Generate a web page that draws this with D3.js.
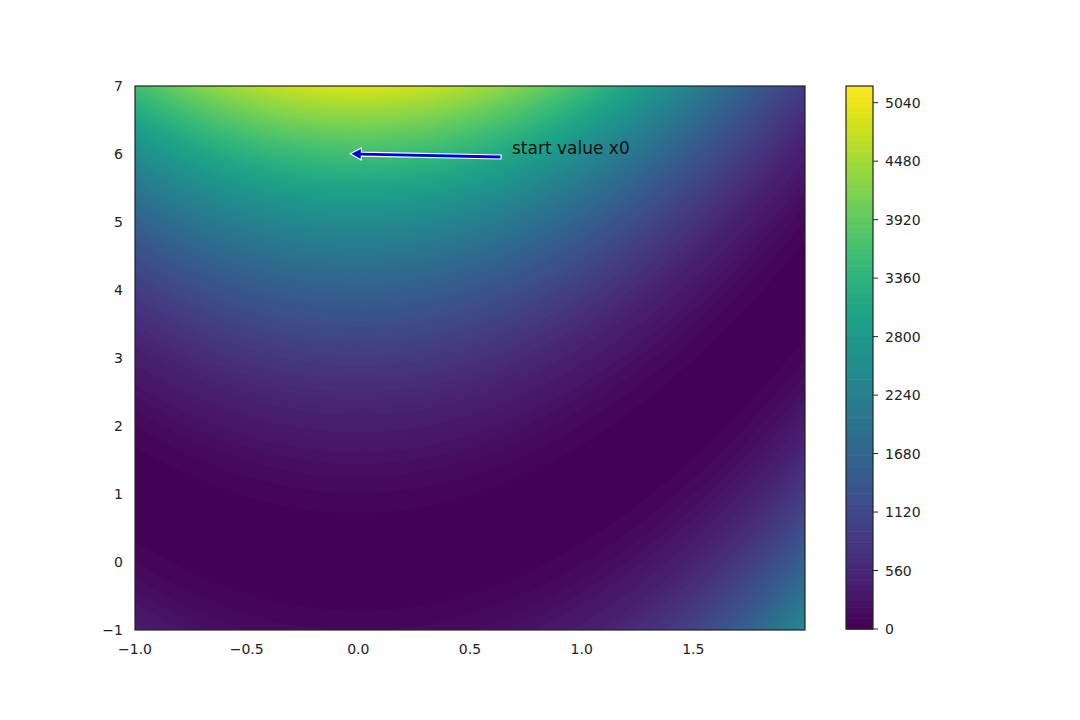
<!DOCTYPE html>
<html>
<head>
<meta charset="utf-8">
<script src="https://cdn.jsdelivr.net/npm/d3@7"></script>
<style>
  body { margin: 0; background: #fff; }
  text { font-family: "DejaVu Sans", sans-serif; }
</style>
</head>
<body>
<svg id="chart" width="1080" height="720"></svg>
<script>
// Surface: Rosenbrock function f(x, y) = (a - x)^2 + b (y - x^2)^2
const rosenA = 1;
const rosenB = 100;
const xDomain = [-1, 2];
const yDomain = [-1, 7];
const xTicks = [-1.0, -0.5, 0.0, 0.5, 1.0, 1.5];
const yTicks = [-1, 0, 1, 2, 3, 4, 5, 6, 7];
const levelStep = 52;
const levelMax = 5200;
const cbarTicks = [0, 560, 1120, 1680, 2240, 2800, 3360, 3920, 4480, 5040];
const startPoint = [0, 6];
const annotationText = 'start value x0';

const svg = d3.select('#chart');
const pLeft = 135, pRight = 805, pTop = 86, pBottom = 630;
const x = d3.scaleLinear().domain(xDomain).range([pLeft, pRight]);
const y = d3.scaleLinear().domain(yDomain).range([pBottom, pTop]);

const nx = 300, ny = 300;
const values = new Array(nx * ny);
for (let j = 0; j < ny; j++) {
    const yv = yDomain[0] + (yDomain[1] - yDomain[0]) * j / (ny - 1);
    for (let i = 0; i < nx; i++) {
        const xv = xDomain[0] + (xDomain[1] - xDomain[0]) * i / (nx - 1);
        values[j * nx + i] = (rosenA - xv) ** 2 + rosenB * (yv - xv * xv) ** 2;
    }
}

const thresholds = d3.range(0, levelMax + 1, levelStep);
const color = d3.scaleSequential(d3.interpolateViridis).domain([0, levelMax]);
const contours = d3.contours().size([nx, ny]).thresholds(thresholds)(values);

// grid index -> pixel
const proj = d3.geoTransform({
    point: function (gx, gy) {
        const px = pLeft + (gx - 0.5) / (nx - 1) * (pRight - pLeft);
        const py = pBottom - (gy - 0.5) / (ny - 1) * (pBottom - pTop);
        this.stream.point(px, py);
    }
});
const path = d3.geoPath(proj);

svg.append('clipPath').attr('id', 'clip')
    .append('rect').attr('x', pLeft).attr('y', pTop)
    .attr('width', pRight - pLeft).attr('height', pBottom - pTop);

svg.append('g').attr('clip-path', 'url(#clip)')
    .selectAll('path')
    .data(contours)
    .join('path')
    .attr('d', path)
    .attr('fill', d => color(d.value + levelStep / 2))
    .attr('stroke', d => color(d.value + levelStep / 2))
    .attr('stroke-width', 0.5);

svg.append('rect').attr('x', pLeft).attr('y', pTop)
    .attr('width', pRight - pLeft).attr('height', pBottom - pTop)
    .attr('fill', 'none').attr('stroke', '#222').attr('stroke-width', 1.2);

const fmt = v => (v < 0 ? '\u2212' : '') + Math.abs(v).toFixed(1);
svg.append('g').selectAll('text').data(xTicks).join('text')
    .attr('x', d => x(d)).attr('y', pBottom + 24)
    .attr('text-anchor', 'middle').attr('font-size', 14).attr('fill', '#222')
    .text(fmt);
svg.append('g').selectAll('text').data(yTicks).join('text')
    .attr('x', pLeft - 12).attr('y', d => y(d) + 5)
    .attr('text-anchor', 'end').attr('font-size', 14).attr('fill', '#222')
    .text(d => (d < 0 ? '\u2212' : '') + Math.abs(d));

// Annotation arrow
const sx = x(startPoint[0]), sy = y(startPoint[1]);
const tailX = 501, tailY = 157;
const ang = Math.atan2(sy - tailY, sx - tailX);
const ux = Math.cos(ang), uy = Math.sin(ang), vx = -uy, vy = ux;
const tipX = sx + 8 * ux, tipY = sy + 8 * uy;
const hl = 11, hw = 6, sw = 2;
const bx = tipX - hl * ux, by = tipY - hl * uy;
const pts = [
    [tailX + sw * vx, tailY + sw * vy],
    [bx + sw * vx, by + sw * vy],
    [bx + hw * vx, by + hw * vy],
    [tipX, tipY],
    [bx - hw * vx, by - hw * vy],
    [bx - sw * vx, by - sw * vy],
    [tailX - sw * vx, tailY - sw * vy]
];
svg.append('polygon').attr('points', pts.map(p => p.join(',')).join(' '))
    .attr('fill', '#0000e0').attr('stroke', '#fff').attr('stroke-width', 1.2);
svg.append('text').attr('x', 512).attr('y', 154)
    .attr('font-size', 17).attr('fill', '#111').text(annotationText);

// Colorbar
const cbL = 846, cbW = 27;
const cy = d3.scaleLinear().domain([0, levelMax]).range([pBottom - 1, pTop]);
svg.append('g').selectAll('rect').data(thresholds.slice(0, -1)).join('rect')
    .attr('x', cbL).attr('width', cbW)
    .attr('y', d => cy(d + levelStep))
    .attr('height', d => cy(d) - cy(d + levelStep) + 0.6)
    .attr('fill', d => color(d + levelStep / 2));
svg.append('rect').attr('x', cbL).attr('y', pTop).attr('width', cbW)
    .attr('height', pBottom - 1 - pTop).attr('fill', 'none')
    .attr('stroke', '#222').attr('stroke-width', 1.2);
const cbAxis = svg.append('g');
cbAxis.selectAll('line').data(cbarTicks).join('line')
    .attr('x1', cbL + cbW).attr('x2', cbL + cbW + 5)
    .attr('y1', d => cy(d)).attr('y2', d => cy(d))
    .attr('stroke', '#222');
cbAxis.selectAll('text').data(cbarTicks).join('text')
    .attr('x', cbL + cbW + 12).attr('y', d => cy(d) + 5)
    .attr('font-size', 14).attr('fill', '#222').text(d => d);
</script>
</body>
</html>
